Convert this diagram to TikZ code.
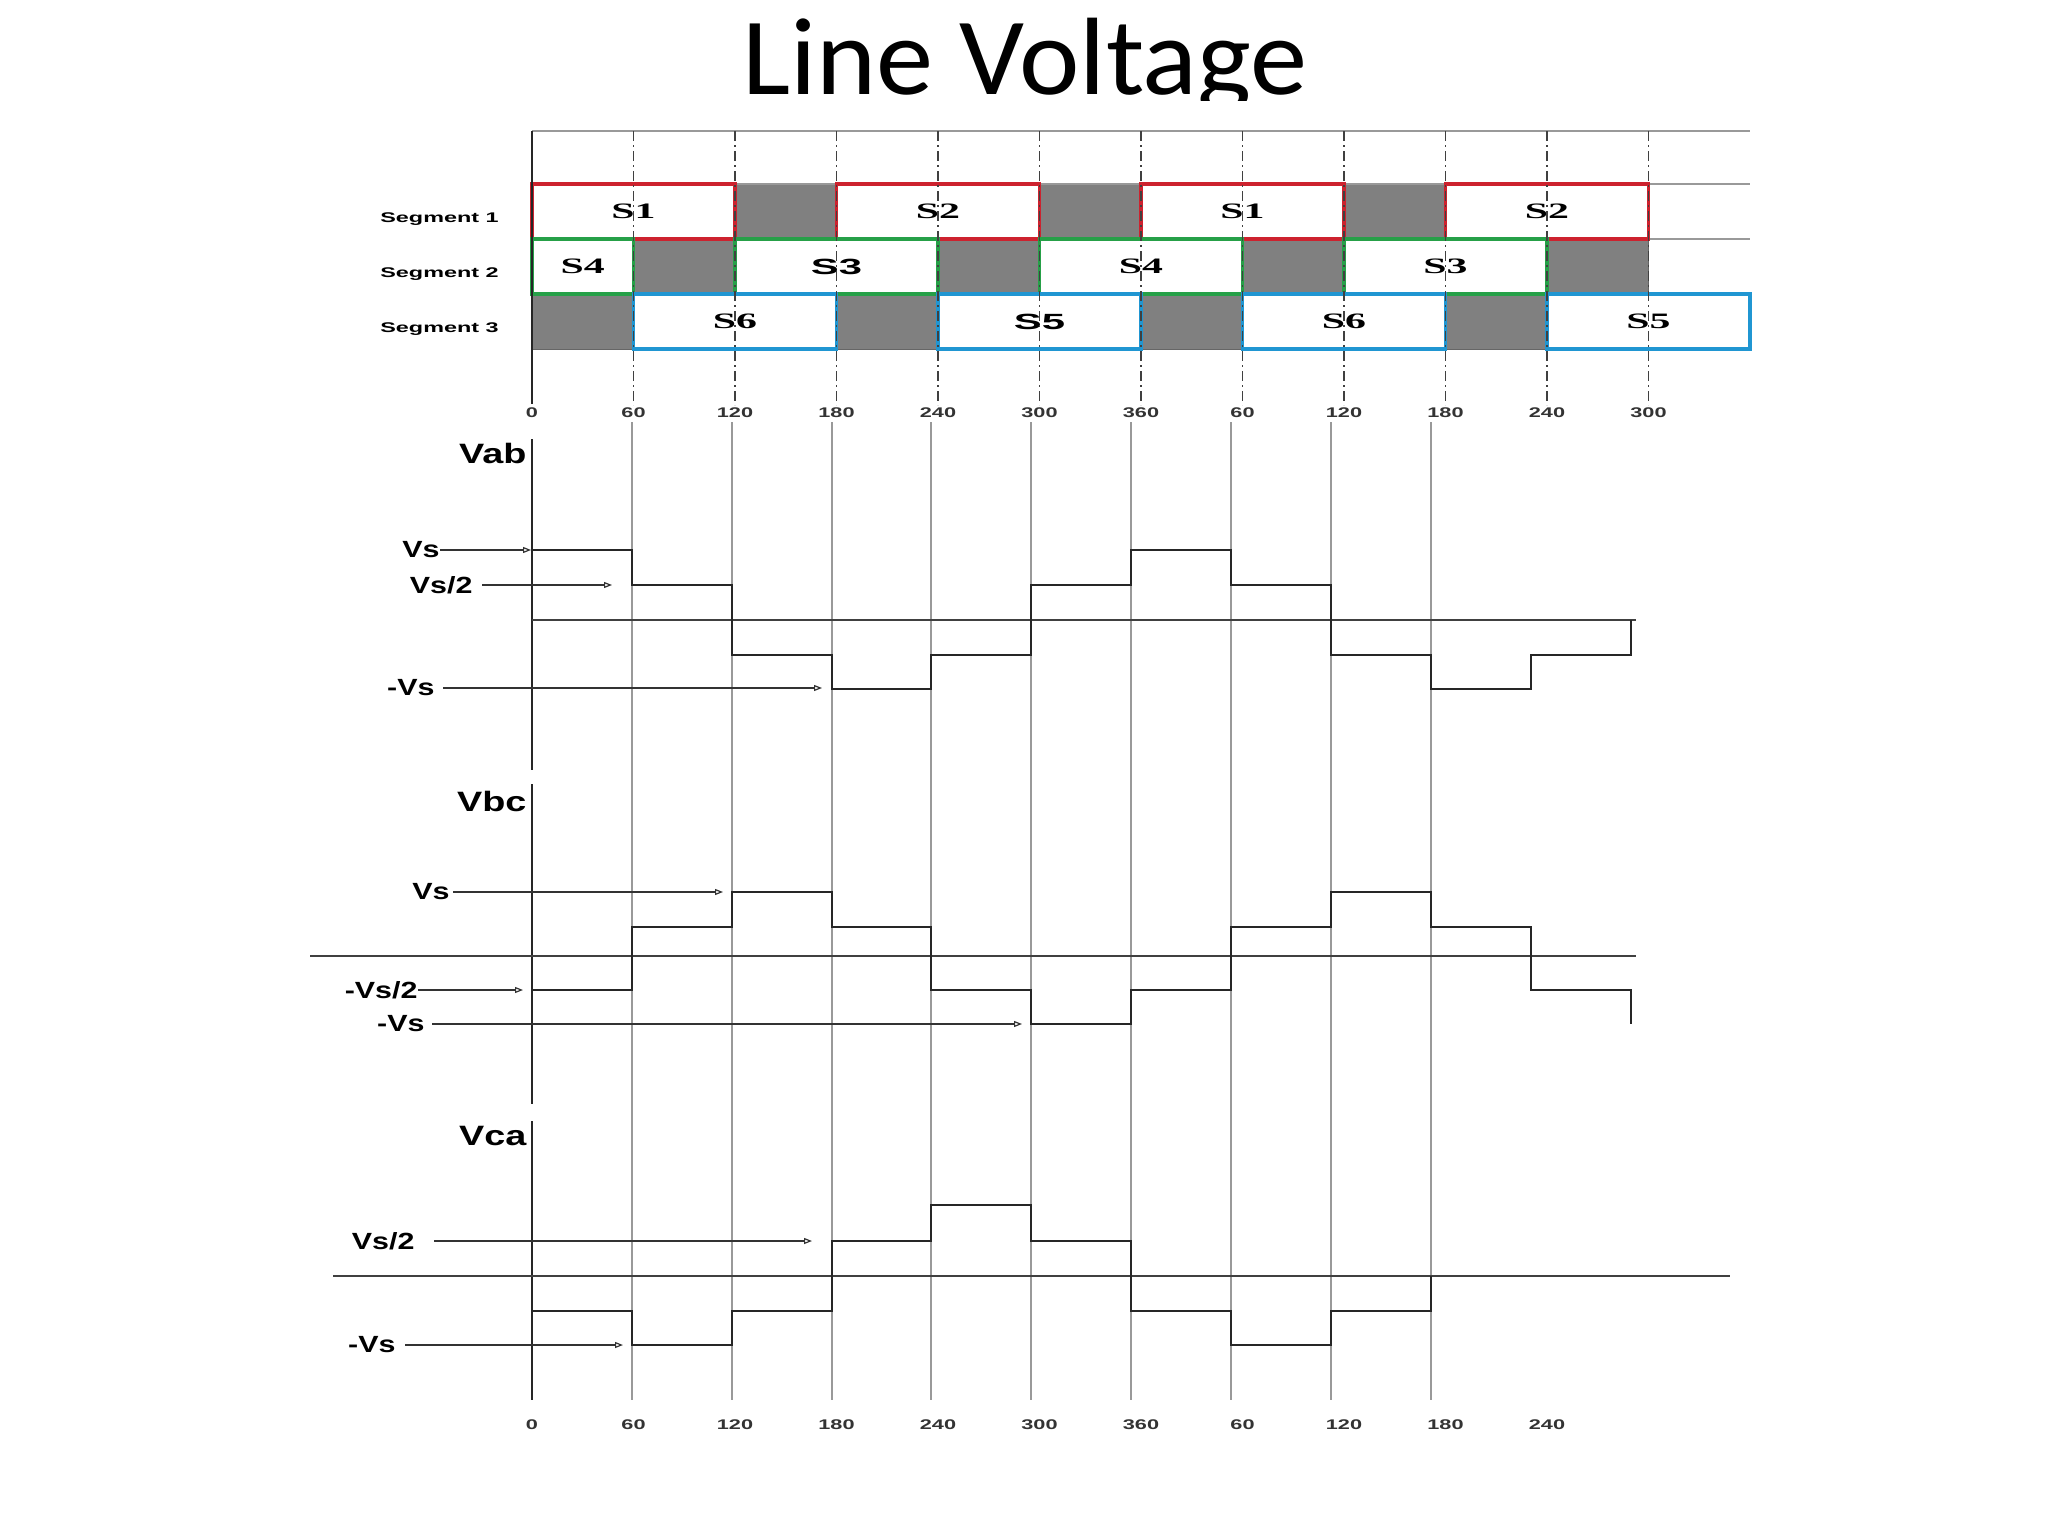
\documentclass[tikz,border=0pt]{standalone}
\usepackage{fontspec}
\setmainfont{Liberation Serif}
\setsansfont{Liberation Sans}
\newfontfamily\titlefont{Carlito}
\usepackage{xcolor}
\usepackage{tikz}
\usetikzlibrary{arrows.meta}
\definecolor{segred}{RGB}{205,34,46}
\definecolor{seggreen}{RGB}{38,160,72}
\definecolor{segblue}{RGB}{32,150,210}
\definecolor{cellgray}{RGB}{128,128,128}
\newcommand{\stxt}[1]{\scalebox{1.9}[1]{#1}}

\begin{document}
\begin{tikzpicture}[x=0.5pt,y=-0.5pt]
\tikzset{>={Triangle[open,length=4pt,width=3pt]}}
\tikzstyle{redbox}=[draw=segred,line width=1.6pt,fill=white,minimum width=101.5pt,minimum height=27.5pt,inner sep=0pt,font=\rmfamily\bfseries\fontsize{11}{11}\selectfont]
\tikzstyle{greenbox}=[redbox,draw=seggreen]
\tikzstyle{bluebox}=[redbox,draw=segblue]
\tikzstyle{graycell}=[fill=cellgray,draw=cellgray!80!black,line width=0.3pt,minimum width=50.75pt,minimum height=27.5pt,inner sep=0pt]
\tikzstyle{seglabel}=[font=\sffamily\bfseries\fontsize{7}{7}\selectfont,xscale=1.67,inner sep=0pt,anchor=base]
\tikzstyle{degree}=[font=\sffamily\bfseries\fontsize{7}{7}\selectfont,xscale=1.55,inner sep=0pt,text=black!80]
\tikzstyle{wname}=[font=\sffamily\bfseries\fontsize{14}{14}\selectfont,xscale=1.35,inner sep=0pt,anchor=east]
\tikzstyle{vlabel}=[font=\sffamily\bfseries\fontsize{11.7}{12}\selectfont,xscale=1.3,inner sep=0pt,anchor=east]
\tikzstyle{guide}=[line width=0.6pt,black!40]
\tikzstyle{tickline}=[line width=0.6pt,black!75,dash pattern=on 5pt off 2pt on 1pt off 2pt]
\tikzstyle{axisline}=[line width=1.2pt,black!85]
\tikzstyle{zeroline}=[line width=0.8pt,black!75]
\tikzstyle{lvl}=[->,line width=0.6pt,black!80]
\tikzstyle{wave}=[line width=1pt,black!85]

\fill[white] (0,0) rectangle (2048,1536);
\useasboundingbox (0,0) rectangle (2048,1536);

% title, cut at the bottom as in the slide
\begin{scope}
\clip (0,0) rectangle (2048,101);
\node[font=\titlefont\fontsize{55}{55}\selectfont,xscale=1.04,anchor=base,inner sep=0pt] (title) at (1025,95) {Line Voltage};
\end{scope}

% switching chart
\draw[guide] (532,131) -- (1750,131);

\node[graycell] (g1a) at (785.75,211.5) {};
\node[graycell] (g1b) at (1090.25,211.5) {};
\node[graycell] (g1c) at (1394.75,211.5) {};
\node[graycell] (g2a) at (684.25,266.5) {};
\node[graycell] (g2b) at (988.75,266.5) {};
\node[graycell] (g2c) at (1293.25,266.5) {};
\node[graycell] (g2d) at (1597.75,266.5) {};
\node[graycell] (g3a) at (582.75,321.5) {};
\node[graycell] (g3b) at (887.25,321.5) {};
\node[graycell] (g3c) at (1191.75,321.5) {};
\node[graycell] (g3d) at (1496.25,321.5) {};

\draw[guide] (532,184) -- (1750,184);
\draw[guide] (532,239) -- (1750,239);

\node[redbox] (s1a) at (633.5,211.5) {\stxt{S1}};
\node[redbox] (s2a) at (938,211.5) {\stxt{S2}};
\node[redbox] (s1b) at (1242.5,211.5) {\stxt{S1}};
\node[redbox] (s2b) at (1547,211.5) {\stxt{S2}};
\node[greenbox,minimum width=50.75pt] (s4a) at (582.75,266.5) {\stxt{S4}};
\node[greenbox] (s3a) at (836.5,266.5) {\stxt{\sffamily S3}};
\node[greenbox] (s4b) at (1141,266.5) {\stxt{S4}};
\node[greenbox] (s3b) at (1445.5,266.5) {\stxt{S3}};
\node[bluebox] (s6a) at (735,321.5) {\stxt{S6}};
\node[bluebox] (s5a) at (1039.5,321.5) {\stxt{\sffamily S5}};
\node[bluebox] (s6b) at (1344,321.5) {\stxt{S6}};
\node[bluebox] (s5b) at (1648.5,321.5) {\stxt{S5}};

\draw[tickline] (633.5,131) -- (633.5,405);
\draw[tickline] (735,131) -- (735,405);
\draw[tickline] (836.5,131) -- (836.5,405);
\draw[tickline] (938,131) -- (938,405);
\draw[tickline] (1039.5,131) -- (1039.5,405);
\draw[tickline] (1141,131) -- (1141,405);
\draw[tickline] (1242.5,131) -- (1242.5,405);
\draw[tickline] (1344,131) -- (1344,405);
\draw[tickline] (1445.5,131) -- (1445.5,405);
\draw[tickline] (1547,131) -- (1547,405);
\draw[tickline] (1648.5,131) -- (1648.5,405);
\draw[axisline] (532,131) -- (532,404);

\node[seglabel] (seg1) at (439.5,222.7) {Segment 1};
\node[seglabel] (seg2) at (439.5,277) {Segment 2};
\node[seglabel] (seg3) at (439.5,332) {Segment 3};

\node[degree] (ta0) at (532,413) {0};
\node[degree] (ta1) at (633.5,413) {60};
\node[degree] (ta2) at (735,413) {120};
\node[degree] (ta3) at (836.5,413) {180};
\node[degree] (ta4) at (938,413) {240};
\node[degree] (ta5) at (1039.5,413) {300};
\node[degree] (ta6) at (1141,413) {360};
\node[degree] (ta7) at (1242.5,413) {60};
\node[degree] (ta8) at (1344,413) {120};
\node[degree] (ta9) at (1445.5,413) {180};
\node[degree] (ta10) at (1547,413) {240};
\node[degree] (ta11) at (1648.5,413) {300};

% guide lines through the waveforms
\draw[guide] (632,422) -- (632,1400);
\draw[guide] (732,422) -- (732,1400);
\draw[guide] (832,422) -- (832,1400);
\draw[guide] (931,422) -- (931,1400);
\draw[guide] (1031,422) -- (1031,1400);
\draw[guide] (1131,422) -- (1131,1400);
\draw[guide] (1231,422) -- (1231,1400);
\draw[guide] (1331,422) -- (1331,1400);
\draw[guide] (1431,422) -- (1431,1400);

% Vab
\draw[axisline] (532,439) -- (532,770);
\node[wname] (vab) at (527,453) {Vab};
\draw[zeroline] (532,620) -- (1636,620);
\node[vlabel] (vabVs) at (440,550) {Vs};
\coordinate (vabVsTip) at (531,550);
\draw[lvl] (vabVs.east) -- (vabVsTip);
\node[vlabel] (vabVh) at (473,585) {Vs/2};
\coordinate (vabVhTip) at (612,585);
\draw[lvl] (vabVh.east) ++(9,0) -- (vabVhTip);
\node[vlabel] (vabVn) at (435,688) {-Vs};
\coordinate (vabVnTip) at (822,688);
\draw[lvl] (vabVn.east) ++(8,0) -- (vabVnTip);
\draw[wave] (532,550) -| (632,585) -| (732,655) -| (832,689) -| (931,655) -| (1031,585) -| (1131,550) -| (1231,585) -| (1331,655) -| (1431,689) -| (1531,655) -| (1631,620);

% Vbc
\draw[axisline] (532,784) -- (532,1104);
\node[wname] (vbc) at (527,801) {Vbc};
\draw[zeroline] (310,956) -- (1636,956);
\node[vlabel] (vbcVs) at (450,892) {Vs};
\coordinate (vbcVsTip) at (723,892);
\draw[lvl] (vbcVs.east) ++(3,0) -- (vbcVsTip);
\node[vlabel] (vbcVh) at (418,990) {-Vs/2};
\coordinate (vbcVhTip) at (523,990);
\draw[lvl] (vbcVh.east) -- (vbcVhTip);
\node[vlabel] (vbcVn) at (425,1024) {-Vs};
\coordinate (vbcVnTip) at (1022,1024);
\draw[lvl] (vbcVn.east) ++(7,0) -- (vbcVnTip);
\draw[wave] (532,990) -| (632,927) -| (732,892) -| (832,927) -| (931,990) -| (1031,1024) -| (1131,990) -| (1231,927) -| (1331,892) -| (1431,927) -| (1531,990) -| (1631,1024);

% Vca
\draw[axisline] (532,1121) -- (532,1400);
\node[wname] (vca) at (527,1136) {Vca};
\draw[zeroline] (333,1276) -- (1730,1276);
\node[vlabel] (vcaVh) at (415,1241) {Vs/2};
\coordinate (vcaVhTip) at (812,1241);
\draw[lvl] (vcaVh.east) ++(19,0) -- (vcaVhTip);
\node[vlabel] (vcaVn) at (396,1345) {-Vs};
\coordinate (vcaVnTip) at (623,1345);
\draw[lvl] (vcaVn.east) ++(9,0) -- (vcaVnTip);
\draw[wave] (532,1311) -| (632,1345) -| (732,1311) -| (832,1241) -| (931,1205) -| (1031,1241) -| (1131,1311) -| (1231,1345) -| (1331,1311) -| (1431,1276);

\node[degree] (tb0) at (532,1425) {0};
\node[degree] (tb1) at (633.5,1425) {60};
\node[degree] (tb2) at (735,1425) {120};
\node[degree] (tb3) at (836.5,1425) {180};
\node[degree] (tb4) at (938,1425) {240};
\node[degree] (tb5) at (1039.5,1425) {300};
\node[degree] (tb6) at (1141,1425) {360};
\node[degree] (tb7) at (1242.5,1425) {60};
\node[degree] (tb8) at (1344,1425) {120};
\node[degree] (tb9) at (1445.5,1425) {180};
\node[degree] (tb10) at (1547,1425) {240};
\end{tikzpicture}
\end{document}
